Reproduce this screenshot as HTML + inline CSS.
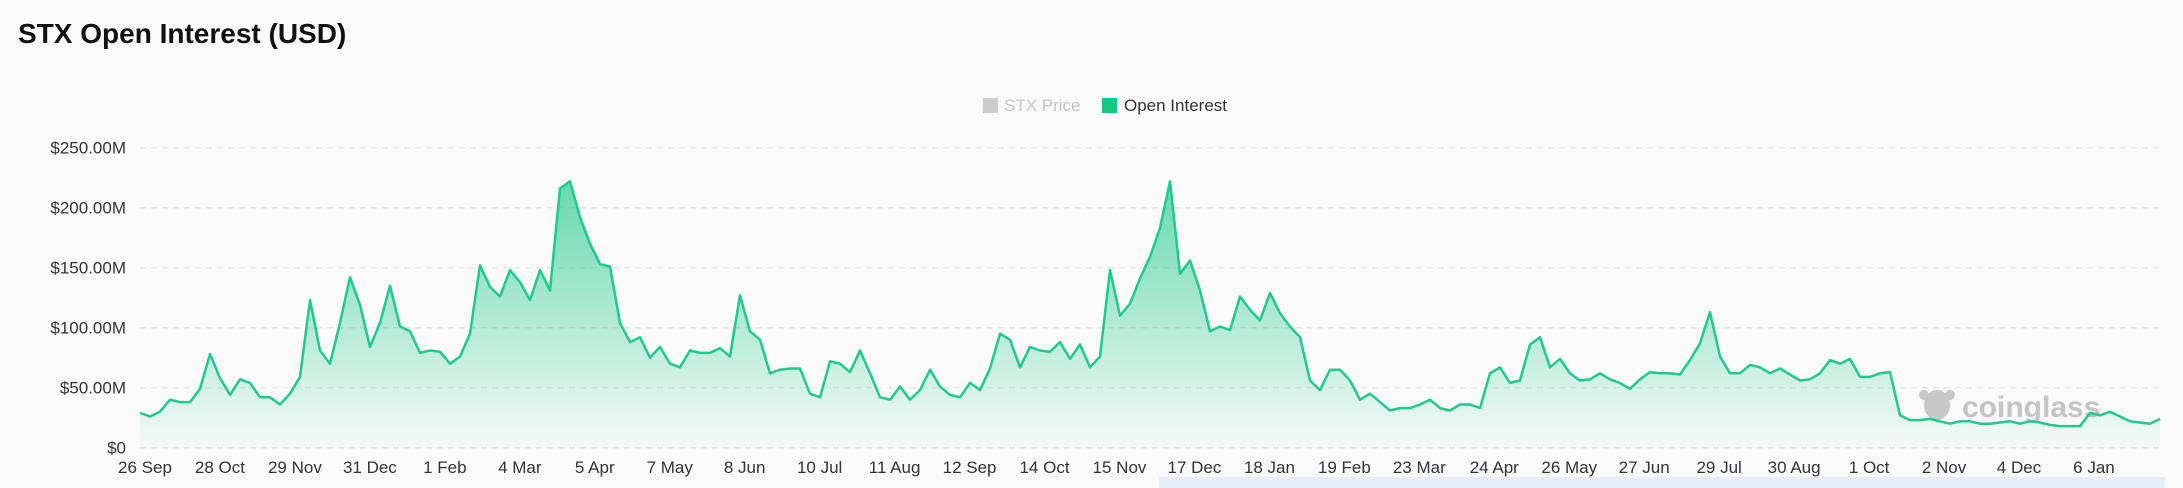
<!DOCTYPE html>
<html><head><meta charset="utf-8"><style>
html,body{margin:0;padding:0;background:#fafafa;}
body{width:2183px;height:488px;overflow:hidden;position:relative;font-family:"Liberation Sans",sans-serif;}
</style></head><body>
<div style="position:absolute;left:18px;top:18px;font-size:28px;font-weight:bold;color:#111;">STX Open Interest (USD)</div>
<div style="position:absolute;left:1159px;top:477px;width:1006px;height:11px;background:#e9ecf9;"></div>
<svg id="chart" width="2183" height="488" style="position:absolute;left:0;top:0;">
<defs><linearGradient id="fillGrad" x1="0" y1="0" x2="0" y2="1">
<stop offset="0" stop-color="#16c784" stop-opacity="0.65"/>
<stop offset="1" stop-color="#16c784" stop-opacity="0.02"/>
</linearGradient></defs>
<g>
<g><rect x="983" y="98" width="15" height="15" fill="#cccccc"/><text x="1004" y="111" font-size="17" fill="#c4c4c4">STX Price</text></g>
<g><rect x="1102" y="98" width="15" height="15" fill="#16c784"/><text x="1124" y="111" font-size="17" fill="#333">Open Interest</text></g>
</g>
<g id="grid"></g><g id="yaxis"></g><g id="xaxis"></g>
<g>
<ellipse cx="1937" cy="405" rx="13" ry="15" fill="#c8c8c8"/><circle cx="1924" cy="395" r="5" fill="#c8c8c8"/><circle cx="1950" cy="395" r="5" fill="#c8c8c8"/>
<text x="1962" y="417" font-size="30" font-weight="bold" fill="#c4c4c4">coinglass</text></g>
<path id="area" fill="url(#fillGrad)"/>
<path id="line" fill="none" stroke="#1fca8b" stroke-width="2.5" stroke-linejoin="round"/>
</svg>
<script>
const oiValues = [29,26,30,40,38,38,49,78,58,44,57,54,42,42,36,45,59,123,81,70,104,142,119,84,104,135,101,97,79,81,80,70,76,95,152,134,126,148,138,123,148,131,216,222,192,170,153,151,104,88,92,75,
84,70,67,81,79,79,83,76,127,97,90,62,65,66,66,45,42,72,70,63,81,62,42,40,51,40,48,65,51,44,42,54,48,66,95,90,67,84,81,80,88,74,86,67,76,148,110,120,141,159,183,
222,145,156,131,97,101,98,126,115,106,129,112,101,92,56,48,65,65,56,40,45,38,31,33,33,36,40,33,31,36,36,33,62,67,54,56,86,92,67,74,62,56,57,62,57,54,49,57,63,62,62,
61,73,87,113,76,62,62,69,67,62,66,61,56,57,62,73,70,74,59,59,62,63,27,23,23,24,22,20,22,22,20,20,21,22,20,22,21,19,18,18,18,29,27,30,26,22,21,20,24];
const yTicks = [0,50,100,150,200,250];
const yTickLabels = ["$0","$50.00M","$100.00M","$150.00M","$200.00M","$250.00M"];
const xTickLabels = ["26 Sep","28 Oct","29 Nov","31 Dec","1 Feb","4 Mar","5 Apr","7 May","8 Jun","10 Jul","11 Aug","12 Sep","14 Oct","15 Nov","17 Dec","18 Jan","19 Feb","23 Mar","24 Apr","26 May","27 Jun","29 Jul","30 Aug","1 Oct","2 Nov","4 Dec","6 Jan"];
const NS="http://www.w3.org/2000/svg";
const x0=140,x1=2160,yBase=447.7,yTop=147.7,yMax=250;
function xScale(i){return x0+i*(x1-x0)/(oiValues.length-1);}
function yScale(v){return yBase-(v/yMax)*(yBase-yTop);}
const tickX0=145,tickStep=74.96;
function xTick(k){return tickX0+k*tickStep;}
const grid=document.getElementById('grid'),ya=document.getElementById('yaxis'),xa=document.getElementById('xaxis');
yTicks.forEach((t,i)=>{
 const l=document.createElementNS(NS,'line');
 
 
 l.setAttribute('x1',140);l.setAttribute('x2',2162);l.setAttribute('y1',yScale(t));l.setAttribute('y2',yScale(t));
 l.setAttribute('stroke','#e6e6e6');l.setAttribute('stroke-dasharray','6,5');l.setAttribute('stroke-width','1.5');
 grid.appendChild(l);
 const tx=document.createElementNS(NS,'text');
 
 
 tx.setAttribute('x',126);tx.setAttribute('y',yScale(t)+6);tx.setAttribute('text-anchor','end');
 tx.setAttribute('font-size','17');tx.setAttribute('fill','#333');tx.textContent=yTickLabels[i];
 ya.appendChild(tx);
});
xTickLabels.forEach((s,k)=>{
 const tx=document.createElementNS(NS,'text');
 
 
 tx.setAttribute('x',xTick(k));tx.setAttribute('y',473);tx.setAttribute('text-anchor','middle');
 tx.setAttribute('font-size','17');tx.setAttribute('fill','#333');tx.textContent=s;
 xa.appendChild(tx);
});
let d='';
oiValues.forEach((v,i)=>{d+=(i?'L':'M')+xScale(i).toFixed(1)+','+yScale(v).toFixed(1);});
document.getElementById('line').setAttribute('d',d);
document.getElementById('area').setAttribute('d',d+'L'+xScale(oiValues.length-1)+','+yBase+'L'+x0+','+yBase+'Z');
</script>
</body></html>
